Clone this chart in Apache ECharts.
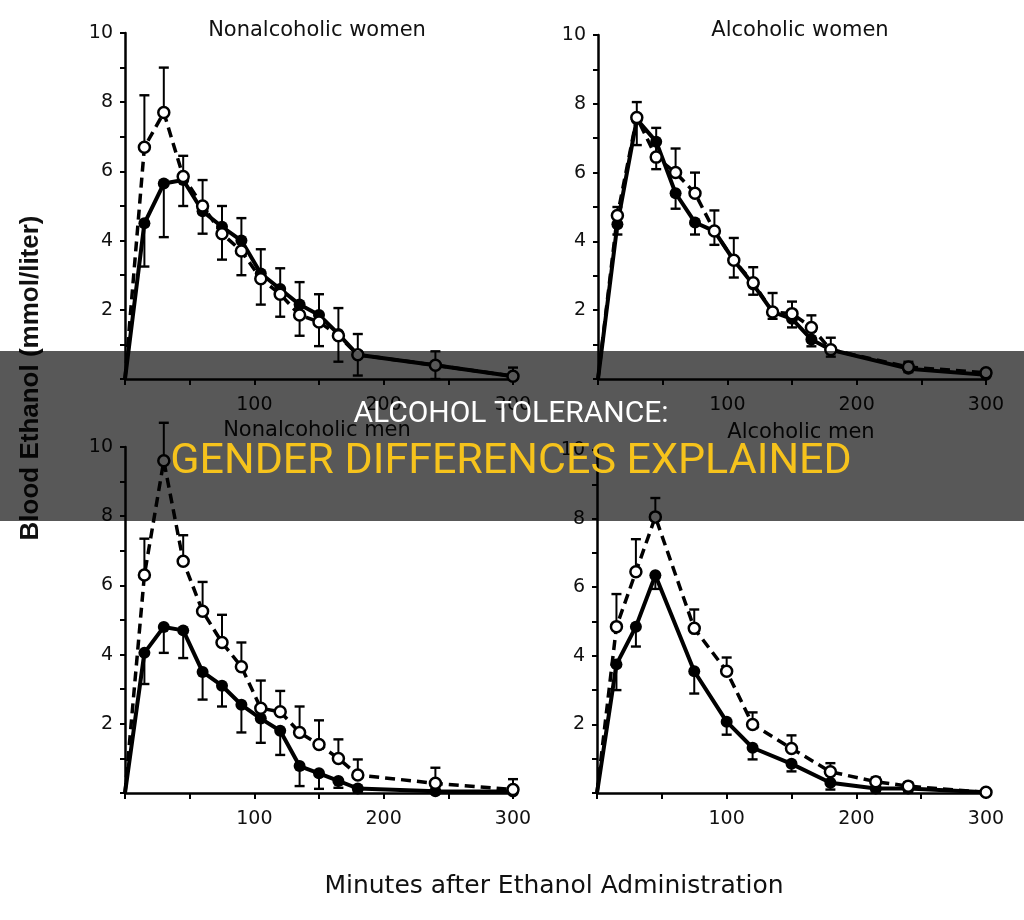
<!DOCTYPE html>
<html lang="en">
<head>
    <meta charset="UTF-8">
    <title>Blood ethanol</title>
    <script src="https://cdn.jsdelivr.net/npm/echarts/dist/echarts.min.js"></script>
    <style>
        body { margin: 0; background: #fff; }
        #main { width: 1024px; height: 920px; }
    </style>
</head>
<body>
<div id="main"></div>

<script>
    // minutes after ethanol
    var times = [0, 15, 30, 45, 60, 75, 90, 105, 120, 135, 150, 165, 180, 240, 300];
    var amTimes = [0, 15, 30, 45, 75, 100, 120, 150, 180, 215, 240, 300];

    // nonalcoholic women
    var nwOpen     = [0, 6.7, 7.7, 5.85, 5.0, 4.2, 3.7, 2.9, 2.45, 1.85, 1.65, 1.25, 0.7, 0.4, 0.08];
    var nwOpenSd   = [null, 1.5, 1.3, 0.6, 0.75, 0.8, 0.95, 0.85, 0.75, 0.95, 0.8, 0.8, 0.6, 0.4, 0.25];
    var nwFilled   = [0, 4.5, 5.65, 5.75, 4.85, 4.4, 4.0, 3.05, 2.6, 2.15, 1.85, 1.3, 0.7, 0.4, 0.08];
    var nwFilledSd = [null, 1.25, 1.55, 0.75, 0.65, 0.95, 1.0, 0.9, 0.8, 0.9, 0.9, 0.8, 0.6, 0.4, 0.1];

    // alcoholic women
    var awOpen     = [0, 4.75, 7.6, 6.45, 6.0, 5.4, 4.3, 3.45, 2.8, 1.95, 1.9, 1.5, 0.85, 0.35, 0.18];
    var awOpenSd   = [null, 0.25, 0.45, 0.85, 0.7, 0.6, 0.6, 0.65, 0.45, 0.55, 0.35, 0.35, 0.35, 0.15, 0.1];
    var awFilled   = [0, 4.5, 7.55, 6.9, 5.4, 4.55, 4.3, 3.45, 2.75, 1.95, 1.75, 1.15, 0.85, 0.3, 0.12];
    var awFilledSd = [null, 0.3, 0.75, 0.8, 0.45, 0.35, 0.4, 0.5, 0.3, 0.2, 0.25, 0.2, 0.2, 0.1, 0.05];

    // nonalcoholic men
    var nmOpen     = [0, 6.3, 9.6, 6.7, 5.25, 4.35, 3.65, 2.45, 2.35, 1.75, 1.4, 1.0, 0.52, 0.28, 0.1];
    var nmOpenSd   = [null, 1.05, 1.1, 0.75, 0.85, 0.8, 0.7, 0.8, 0.6, 0.75, 0.7, 0.55, 0.45, 0.45, 0.3];
    var nmFilled   = [0, 4.05, 4.8, 4.7, 3.5, 3.1, 2.55, 2.15, 1.8, 0.78, 0.57, 0.35, 0.13, 0.05, 0.04];
    var nmFilledSd = [null, 0.9, 0.75, 0.8, 0.8, 0.6, 0.8, 0.7, 0.7, 0.58, 0.45, 0.2, 0.1, 0.05, 0.04];

    // alcoholic men
    var amOpen     = [0, 4.85, 6.45, 8.05, 4.8, 3.55, 2.0, 1.3, 0.62, 0.33, 0.2, 0.02];
    var amOpenSd   = [null, 0.95, 0.95, 0.55, 0.55, 0.4, 0.35, 0.38, 0.25, 0.12, 0.1, 0.05];
    var amFilled   = [0, 3.75, 4.85, 6.35, 3.55, 2.08, 1.32, 0.85, 0.3, 0.13, 0.13, 0.02];
    var amFilledSd = [null, 0.75, 0.58, 0.4, 0.65, 0.38, 0.34, 0.22, 0.2, 0.08, 0.1, 0.05];

    var panelTitles = ['Nonalcoholic women', 'Alcoholic women', 'Nonalcoholic men', 'Alcoholic men'];
    var xLabels = [100, 200, 300];
    var yLabels = [2, 4, 6, 8, 10];

    var panels = [
        {t: times,   open: nwOpen, openSd: nwOpenSd, filled: nwFilled, filledSd: nwFilledSd},
        {t: times,   open: awOpen, openSd: awOpenSd, filled: awFilled, filledSd: awFilledSd},
        {t: times,   open: nmOpen, openSd: nmOpenSd, filled: nmFilled, filledSd: nmFilledSd},
        {t: amTimes, open: amOpen, openSd: amOpenSd, filled: amFilled, filledSd: amFilledSd}
    ];

    var grids = [
        {left: 125, top: 33,  width: 388, height: 346},
        {left: 598, top: 35,  width: 388, height: 344},
        {left: 125, top: 447, width: 388, height: 346},
        {left: 597, top: 450, width: 389, height: 343}
    ];
    var titlePos = [[317, 31], [800, 31], [317, 431], [801, 433]];

    function lineData(t, v) {
        var out = [];
        for (var i = 0; i < t.length; i++) {
            if (t[i] === 0) out.push({value: [t[i], v[i]], symbol: 'none'});
            else out.push([t[i], v[i]]);
        }
        return out;
    }

    function barData(t, v, sd, sign) {
        var out = [];
        for (var i = 0; i < t.length; i++) {
            if (sd[i] == null) continue;
            out.push([t[i], v[i], v[i] + sign * sd[i]]);
        }
        return out;
    }

    function renderBar(params, api) {
        var p0 = api.coord([api.value(0), api.value(1)]);
        var p1 = api.coord([api.value(0), api.value(2)]);
        var w = 5;
        return {
            type: 'group',
            children: [
                {type: 'line', shape: {x1: p0[0], y1: p0[1], x2: p1[0], y2: p1[1]},
                    style: {stroke: '#000', lineWidth: 2}},
                {type: 'line', shape: {x1: p1[0] - w, y1: p1[1], x2: p1[0] + w, y2: p1[1]},
                    style: {stroke: '#000', lineWidth: 2.4}}
            ]
        };
    }

    var xAxes = [], yAxes = [], series = [], graphics = [];

    for (var k = 0; k < 4; k++) {
        var p = panels[k];
        xAxes.push({
            gridIndex: k, type: 'value', min: 0, max: 300, interval: 50,
            axisLine: {lineStyle: {color: '#000', width: 2.5}},
            axisTick: {length: 6, lineStyle: {color: '#000', width: 2}},
            splitLine: {show: false},
            axisLabel: {
                margin: 17, color: '#111', fontFamily: 'DejaVu Sans', fontSize: 19,
                formatter: function (v) { return xLabels.indexOf(v) >= 0 ? String(v) : ''; }
            }
        });
        yAxes.push({
            gridIndex: k, type: 'value', min: 0, max: 10, interval: 1,
            axisLine: {show: true, lineStyle: {color: '#000', width: 2.5}},
            axisTick: {show: true, length: 5, lineStyle: {color: '#000', width: 2}},
            splitLine: {show: false},
            axisLabel: {
                margin: 12, color: '#111', fontFamily: 'DejaVu Sans', fontSize: 19,
                formatter: function (v) { return yLabels.indexOf(v) >= 0 ? String(v) : ''; }
            }
        });

        series.push({
            type: 'custom', xAxisIndex: k, yAxisIndex: k, z: 1, silent: true,
            dimensions: ['t', 'v', 'end'], encode: {x: 0, y: [1, 2]},
            renderItem: renderBar, data: barData(p.t, p.open, p.openSd, 1)
        });
        series.push({
            type: 'custom', xAxisIndex: k, yAxisIndex: k, z: 1, silent: true,
            dimensions: ['t', 'v', 'end'], encode: {x: 0, y: [1, 2]},
            renderItem: renderBar, data: barData(p.t, p.filled, p.filledSd, -1)
        });
        series.push({
            type: 'line', xAxisIndex: k, yAxisIndex: k, z: 3,
            data: lineData(p.t, p.filled),
            showAllSymbol: true, symbol: 'circle', symbolSize: 12,
            lineStyle: {color: '#000', width: 4},
            itemStyle: {color: '#000'}
        });
        series.push({
            type: 'line', xAxisIndex: k, yAxisIndex: k, z: 4,
            data: lineData(p.t, p.open),
            showAllSymbol: true, symbol: 'circle', symbolSize: 11,
            lineStyle: {color: '#000', width: 3.5, type: [10, 6]},
            itemStyle: {color: '#fff', borderColor: '#000', borderWidth: 2.5}
        });

        graphics.push({
            type: 'text', x: titlePos[k][0], y: titlePos[k][1], z: 5,
            style: {text: panelTitles[k], fill: '#111', font: '21px "DejaVu Sans"',
                textAlign: 'center', textVerticalAlign: 'middle'}
        });
    }

    graphics.push({
        type: 'text', x: 31, y: 378, rotation: Math.PI / 2, z: 5,
        style: {text: 'Blood Ethanol (mmol/liter)', fill: '#111', font: 'bold 26px "Liberation Sans"',
            textAlign: 'center', textVerticalAlign: 'middle'}
    });
    graphics.push({
        type: 'text', x: 554, y: 886, z: 5,
        style: {text: 'Minutes after Ethanol Administration', fill: '#111', font: '25px "DejaVu Sans"',
            textAlign: 'center', textVerticalAlign: 'middle'}
    });

    // banner across the middle
    graphics.push({
        type: 'rect', z: 100, shape: {x: 0, y: 351, width: 1024, height: 170},
        style: {fill: 'rgba(0,0,0,0.655)'}
    });
    graphics.push({
        type: 'text', x: 511, y: 414, z: 101,
        style: {text: 'ALCOHOL TOLERANCE:', fill: '#fff', font: '30px Roboto',
            textAlign: 'center', textVerticalAlign: 'middle'}
    });
    graphics.push({
        type: 'text', x: 511, y: 462, z: 101,
        style: {text: 'GENDER DIFFERENCES EXPLAINED', fill: '#f6c31c', font: '43px Roboto',
            textAlign: 'center', textVerticalAlign: 'middle'}
    });

    var myChart = echarts.init(document.getElementById('main'));
    myChart.setOption({
        animation: false,
        grid: grids,
        xAxis: xAxes,
        yAxis: yAxes,
        series: series,
        graphic: graphics
    });
</script>
</body>
</html>
